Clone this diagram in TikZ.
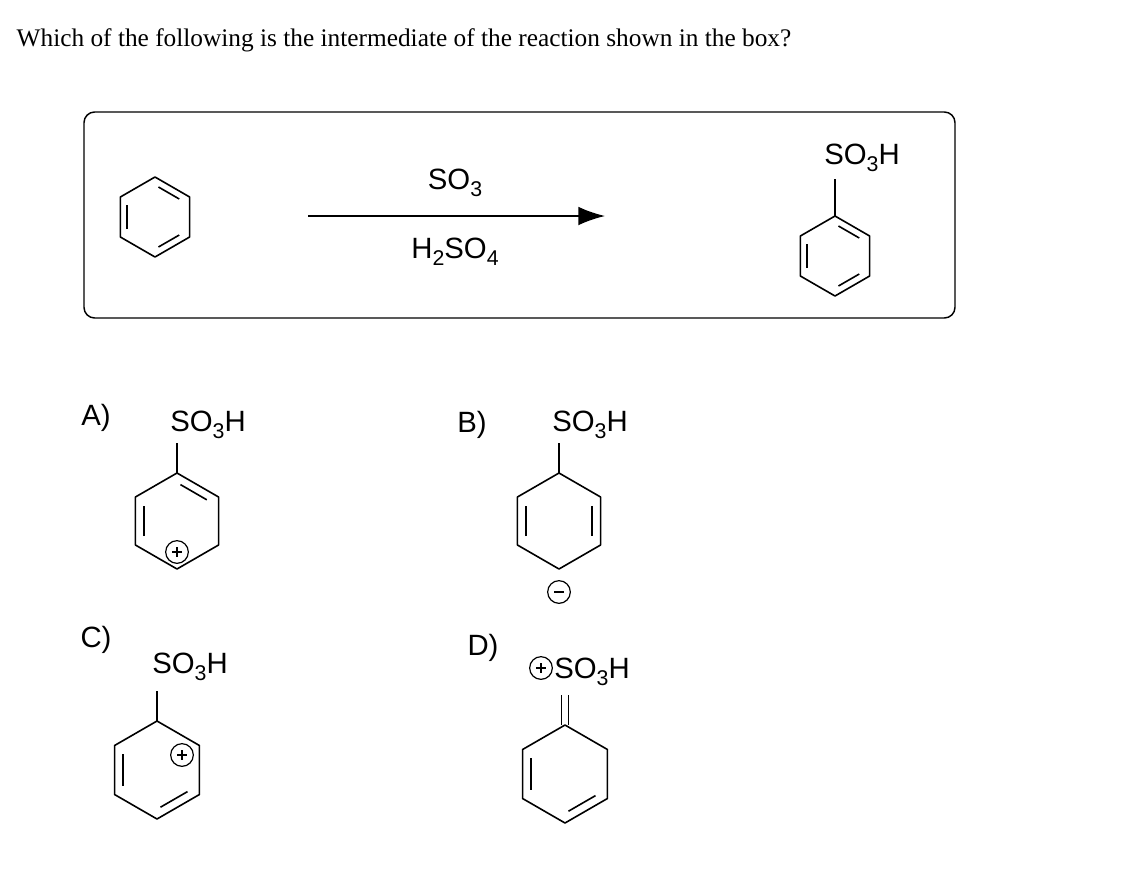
\documentclass[tikz,border=0pt]{standalone}
\usepackage{fontspec}
\setmainfont{Liberation Sans}
\newfontfamily\qfont{Liberation Serif}
\usetikzlibrary{calc,arrows.meta}
\newcommand\sub[1]{\raisebox{-0.25em}{\fontsize{16}{18}\selectfont #1}}
\newcommand\ring[4]{%
  \coordinate (#1c) at (#2,#3);
  \foreach \i/\a in {1/-90,2/-30,3/30,4/90,5/150,6/-150}{\coordinate (#1\i) at ($(#2,#3)+(\a:#4)$);}
  \draw[bond] (#11)--(#12)--(#13)--(#14)--(#15)--(#16)--cycle;}
\newcommand\dbl[3]{\draw[bond,shorten <=3,shorten >=3] ($(#1c)!0.8!(#1#2)$)--($(#1c)!0.8!(#1#3)$);}
\newcommand\charge[3]{\node[chg] (#1) at (#2) {}; \draw[line width=0.9pt] ($(#1)+(-5,0)$)--($(#1)+(5,0)$);
  \ifx#3+\draw[line width=0.9pt] ($(#1)+(0,-5)$)--($(#1)+(0,5)$);\fi}
\begin{document}
\begin{tikzpicture}[x=0.75pt,y=-0.75pt,
  bond/.style={line width=1.2pt,line join=round},
  lbl/.style={font=\fontsize{22}{24}\selectfont,inner sep=0pt},
  chg/.style={circle,draw,line width=0.9pt,minimum size=17,inner sep=0pt}]
\useasboundingbox (0,0) rectangle (1132,886);
\node[anchor=west,font=\qfont\fontsize{19}{22}\selectfont] (q) at (12,40) {Which of the following is the intermediate of the reaction shown in the box?};
\node[draw,line width=1.1pt,rounded corners=8,minimum width=871*0.75pt,minimum height=206*0.75pt] (box) at (519.5,215) {};
% reactant
\ring{r}{155}{217}{40}\dbl{r}{5}{6}\dbl{r}{1}{2}\dbl{r}{3}{4}
\coordinate (as) at (308,216); \coordinate (ae) at (605,216);
\draw[line width=1.2pt,-{Latex[length=20,width=14]}] (as)--(ae);
\node[lbl] (so3) at (455,183) {SO\sub{3}};
\node[lbl] (h2so4) at (455,252) {H\sub{2}SO\sub{4}};
% product
\ring{p}{835}{256}{40}\dbl{p}{5}{6}\dbl{p}{1}{2}\dbl{p}{3}{4}
\node[lbl] (ps) at (862,158) {SO\sub{3}H};
\draw[bond] (p1)--++(0,-37);
% A
\node[lbl] (la) at (96,418) {A)};
\ring{a}{177}{521}{48}\dbl{a}{5}{6}\dbl{a}{1}{2}
\node[lbl] (as3) at (208,425) {SO\sub{3}H};
\draw[bond] (a1)--++(0,-30);
\charge{ca}{177,552}{+}
% B
\node[lbl] (lb) at (472,425) {B)};
\ring{b}{559}{521}{48}\dbl{b}{5}{6}\dbl{b}{2}{3}
\node[lbl] (bs3) at (590,425) {SO\sub{3}H};
\draw[bond] (b1)--++(0,-30);
\charge{cb}{559,592}{-}
% C
\node[lbl] (lc) at (96,640) {C)};
\ring{c}{157}{770}{49}\dbl{c}{5}{6}\dbl{c}{3}{4}
\node[lbl] (cs3) at (190,667) {SO\sub{3}H};
\draw[bond] (c1)--++(0,-30);
\charge{cc}{182,755}{+}
% D
\node[lbl] (ld) at (483,648) {D)};
\ring{d}{565}{774}{49}\dbl{d}{5}{6}\dbl{d}{3}{4}
\node[lbl] (ds3) at (592,672) {SO\sub{3}H};
\charge{cd}{541,668}{+}
\draw[bond] ($(d1)+(-3.5,0)$)--++(0,-30);
\draw[bond] ($(d1)+(3.5,0)$)--++(0,-30);
\end{tikzpicture}
\end{document}
